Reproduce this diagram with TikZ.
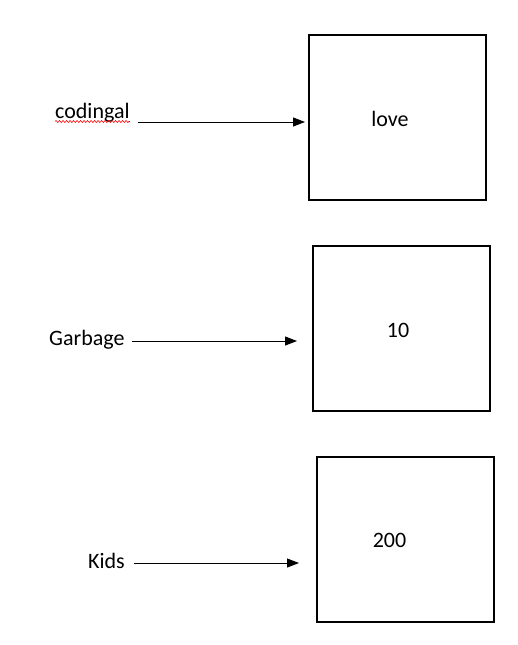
\documentclass[tikz,border=0pt]{standalone}
\usepackage{fontspec}
\setmainfont{Carlito}
\usetikzlibrary{arrows.meta,decorations.pathmorphing}
\begin{document}
\begin{tikzpicture}[x=1pt,y=-1pt,
  box/.style={draw=black,line width=2pt,minimum width=177pt,minimum height=165pt,inner sep=0pt},
  lbl/.style={font=\fontsize{22}{26}\selectfont,inner sep=0pt},
  arr/.style={-{Triangle[length=12pt,width=9pt]},line width=1pt}]
\useasboundingbox (0,0) rectangle (518,645);
% boxes
\node[box] (boxA) at (397,117.5) {};
\node[box] (boxB) at (401.5,328.5) {};
\node[box] (boxC) at (405.5,539) {};
\node[lbl] (valA) at (390,119) {love};
\node[lbl] (valB) at (398,330) {10};
\node[lbl] (valC) at (389.5,540) {200};
% names on the left
\node[lbl,anchor=base west] (lblA) at (55,118) {codingal};
\node[lbl,anchor=base west] (lblB) at (49,345) {Garbage};
\node[lbl,anchor=base west] (lblC) at (88,568) {Kids};
\draw[red,line width=0.6pt,decorate,decoration={snake,amplitude=1pt,segment length=3.5pt}]
  ([yshift=-3.5pt]lblA.base west) -- ([yshift=-3.5pt]lblA.base east);
% arrows
\coordinate (tipA) at (305,122);
\coordinate (tipB) at (297,341);
\coordinate (tipC) at (299,563);
\draw[arr,shorten <=8pt] (lblA.east |- tipA) -- (tipA);
\draw[arr,shorten <=7pt] (lblB.east |- tipB) -- (tipB);
\draw[arr,shorten <=9pt] (lblC.east |- tipC) -- (tipC);
\end{tikzpicture}
\end{document}
